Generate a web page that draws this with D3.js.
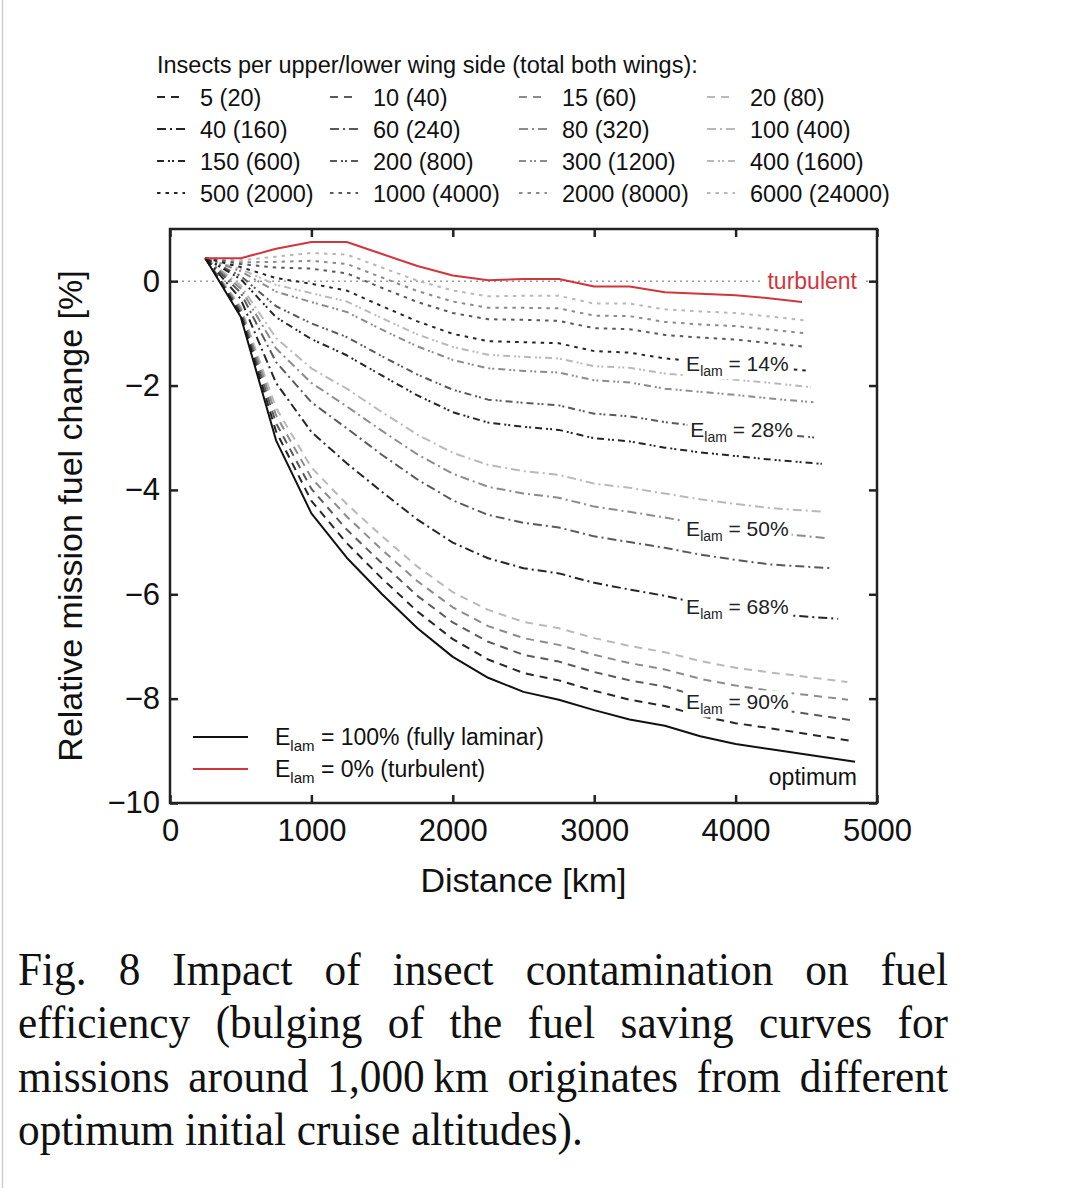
<!DOCTYPE html>
<html><head><meta charset="utf-8">
<script src="https://cdn.jsdelivr.net/npm/d3@7"></script>
<style>body{margin:0;background:#fff} svg{display:block}</style>
</head><body>
<svg id="c" width="1071" height="1200"></svg>
<script>
// ---------------- DATA ----------------
const distanceKm = [250, 500, 750, 1000, 1250, 1500, 1750, 2000, 2250, 2500, 2750, 3000, 3250, 3500, 3750, 4000, 4250];
// each series: 17 values at distanceKm, then the value at its own end distance
const laminar   = [0.44, -0.68, -3.05, -4.45, -5.30, -6.00, -6.65, -7.20, -7.60, -7.87, -8.02, -8.22, -8.40, -8.52, -8.72, -8.87, -8.97, -9.21];
const turbulent = [0.44, 0.44, 0.62, 0.75, 0.75, 0.52, 0.29, 0.11, 0.02, 0.04, 0.04, -0.10, -0.10, -0.21, -0.24, -0.27, -0.33, -0.40];
const laminarEndKm = 4845, turbulentEndKm = 4470;

const ins5    = [0.44, -0.63, -2.88, -4.21, -5.02, -5.70, -6.33, -6.86, -7.25, -7.51, -7.65, -7.85, -8.02, -8.14, -8.33, -8.47, -8.57, -8.81];
const ins10   = [0.44, -0.58, -2.72, -3.98, -4.76, -5.41, -6.03, -6.54, -6.91, -7.16, -7.29, -7.49, -7.65, -7.77, -7.96, -8.10, -8.19, -8.41];
const ins15   = [0.44, -0.53, -2.57, -3.77, -4.51, -5.15, -5.75, -6.25, -6.61, -6.84, -6.97, -7.16, -7.32, -7.44, -7.62, -7.75, -7.85, -8.02];
const ins20   = [0.44, -0.49, -2.43, -3.57, -4.27, -4.89, -5.47, -5.96, -6.30, -6.53, -6.65, -6.84, -6.99, -7.11, -7.28, -7.41, -7.50, -7.68];
const ins40   = [0.44, -0.34, -1.95, -2.89, -3.49, -4.04, -4.57, -5.01, -5.31, -5.50, -5.60, -5.78, -5.91, -6.03, -6.18, -6.29, -6.38, -6.47];
const ins60   = [0.44, -0.22, -1.55, -2.32, -2.82, -3.33, -3.80, -4.20, -4.48, -4.63, -4.72, -4.89, -5.00, -5.11, -5.24, -5.34, -5.43, -5.50];
const ins80   = [0.44, -0.14, -1.29, -1.95, -2.40, -2.87, -3.32, -3.69, -3.94, -4.07, -4.15, -4.32, -4.42, -4.53, -4.65, -4.74, -4.82, -4.92];
const ins100  = [0.44, -0.08, -1.09, -1.67, -2.06, -2.51, -2.94, -3.29, -3.52, -3.64, -3.71, -3.88, -3.96, -4.07, -4.18, -4.27, -4.35, -4.42];
const ins150  = [0.44, 0.04, -0.69, -1.11, -1.42, -1.81, -2.19, -2.51, -2.71, -2.79, -2.85, -3.01, -3.07, -3.19, -3.28, -3.35, -3.42, -3.50];
const ins200  = [0.44, 0.10, -0.48, -0.81, -1.07, -1.44, -1.79, -2.08, -2.27, -2.33, -2.38, -2.54, -2.59, -2.70, -2.78, -2.85, -2.92, -3.00];
const ins300  = [0.44, 0.19, -0.20, -0.40, -0.59, -0.93, -1.25, -1.51, -1.67, -1.72, -1.75, -1.90, -1.94, -2.06, -2.12, -2.18, -2.25, -2.32];
const ins400  = [0.44, 0.23, -0.07, -0.23, -0.39, -0.71, -1.02, -1.26, -1.41, -1.45, -1.48, -1.63, -1.66, -1.77, -1.83, -1.89, -1.95, -2.03];
const ins500  = [0.44, 0.27, 0.06, -0.05, -0.18, -0.48, -0.77, -1.01, -1.15, -1.17, -1.19, -1.34, -1.37, -1.48, -1.54, -1.59, -1.65, -1.72];
const ins1000 = [0.44, 0.33, 0.26, 0.24, 0.15, -0.13, -0.40, -0.61, -0.73, -0.74, -0.76, -0.90, -0.92, -1.03, -1.08, -1.12, -1.19, -1.26];
const ins2000 = [0.44, 0.36, 0.37, 0.39, 0.33, 0.07, -0.19, -0.39, -0.51, -0.51, -0.52, -0.66, -0.67, -0.78, -0.83, -0.86, -0.93, -1.00];
const ins6000 = [0.44, 0.40, 0.47, 0.54, 0.51, 0.26, 0.01, -0.18, -0.29, -0.28, -0.28, -0.43, -0.43, -0.54, -0.58, -0.61, -0.68, -0.75];

const insectSeries = [ins5, ins10, ins15, ins20, ins40, ins60, ins80, ins100, ins150, ins200, ins300, ins400, ins500, ins1000, ins2000, ins6000];
const insectLabels = ["5 (20)", "10 (40)", "15 (60)", "20 (80)", "40 (160)", "60 (240)", "80 (320)", "100 (400)",
  "150 (600)", "200 (800)", "300 (1200)", "400 (1600)", "500 (2000)", "1000 (4000)", "2000 (8000)", "6000 (24000)"];
const insectEndKm = [4820, 4810, 4795, 4790, 4725, 4680, 4630, 4630, 4610, 4580, 4550, 4530, 4520, 4500, 4500, 4490];

// E_lam annotations: series index, label, start distance (km), distance used for vertical placement
const elamLabels = [
  {s: 12, text: "14%", km: 3650, at: 4000},
  {s: 9,  text: "28%", km: 3680, at: 4000},
  {s: 6,  text: "50%", km: 3650, at: 4000},
  {s: 4,  text: "68%", km: 3650, at: 3900},
  {s: 1,  text: "90%", km: 3650, at: 3950}
];
const xTicks = [0, 1000, 2000, 3000, 4000, 5000];
const yTicks = [0, -2, -4, -6, -8, -10];
const captionLines = [
  "Fig. 8 Impact of insect contamination on fuel",
  "efficiency (bulging of the fuel saving curves for",
  "missions around 1,000\u2009km originates from different",
  "optimum initial cruise altitudes)."
];

// ---------------- DRAWING ----------------
const SANS = "'Liberation Sans', Arial, Helvetica, sans-serif";
const SERIF = "'Liberation Serif', 'Times New Roman', serif";
const RED = "#d2353e";
const grays = ["#262626", "#5a5a5a", "#8c8c8c", "#b9b9b9"];
const dashes = ["8,6", "9,4,2,4", "7,4,2,2,2,4", "3.5,5"];

const svg = d3.select("#c");
svg.append("rect").attr("width", 1071).attr("height", 1200).attr("fill", "#fff");
svg.append("line").attr("x1", 2.5).attr("x2", 2.5).attr("y1", 0).attr("y2", 1188)
  .attr("stroke", "#cfcfcf").attr("stroke-width", 1.5);

const M = {l: 170, r: 877, t: 229, b: 803};
const x = d3.scaleLinear().domain([0, 5000]).range([M.l, M.r]);
const y = d3.scaleLinear().domain([-10, 1]).range([M.b, M.t]);
const line = d3.line().x(d => x(d[0])).y(d => y(d[1]));

function pts(vals, endKm) {
  const p = distanceKm.map((d, i) => [d, vals[i]]);
  p.push([endKm, vals[distanceKm.length]]);
  return p;
}

// zero reference line
svg.append("line").attr("x1", x(0)).attr("x2", x(5000)).attr("y1", y(0)).attr("y2", y(0))
  .attr("stroke", "#9a9a9a").attr("stroke-width", 1.4).attr("stroke-dasharray", "2,4");

const gLines = svg.append("g").attr("fill", "none").attr("stroke-linejoin", "round");
const order = d3.range(insectSeries.length).sort((a, b) => (b % 4) - (a % 4));
order.forEach(i => {
  gLines.append("path")
    .attr("d", line(pts(insectSeries[i], insectEndKm[i])))
    .attr("stroke", grays[i % 4])
    .attr("stroke-width", 2)
    .attr("stroke-dasharray", dashes[Math.floor(i / 4)]);
});
gLines.append("path").attr("d", line(pts(laminar, laminarEndKm))).attr("stroke", "#111").attr("stroke-width", 2);
gLines.append("path").attr("d", line(pts(turbulent, turbulentEndKm))).attr("stroke", RED).attr("stroke-width", 2);

function valueAt(vals, endKm, km) {
  const p = pts(vals, endKm);
  for (let k = 0; k < p.length - 1; k++) {
    if (km >= p[k][0] && km <= p[k + 1][0]) {
      const t = (km - p[k][0]) / (p[k + 1][0] - p[k][0]);
      return p[k][1] + t * (p[k + 1][1] - p[k][1]);
    }
  }
  return p[p.length - 1][1];
}

// E_lam labels with white background
elamLabels.forEach(L => {
  const yc = y(valueAt(insectSeries[L.s], insectEndKm[L.s], L.at));
  const g = svg.append("g");
  const bg = g.append("rect").attr("fill", "#fff");
  const t = g.append("text").attr("x", x(L.km)).attr("y", yc + 7)
    .attr("font-family", SANS).attr("font-size", 21).attr("fill", "#222");
  t.append("tspan").text("E");
  t.append("tspan").attr("font-size", 14).attr("dy", 5).text("lam");
  t.append("tspan").attr("dy", -5).text(" = " + L.text);
  const b = t.node().getBBox();
  bg.attr("x", b.x - 3).attr("y", b.y).attr("width", b.width + 6).attr("height", b.height);
});

// "turbulent" label
{
  const g = svg.append("g");
  const bg = g.append("rect").attr("fill", "#fff");
  const t = g.append("text").attr("x", 857).attr("y", y(0) + 8).attr("text-anchor", "end")
    .attr("font-family", SANS).attr("font-size", 23).attr("fill", RED).text("turbulent");
  const b = t.node().getBBox();
  bg.attr("x", b.x - 5).attr("y", b.y).attr("width", b.width + 10).attr("height", b.height);
}
svg.append("text").attr("x", 857).attr("y", 785).attr("text-anchor", "end")
  .attr("font-family", SANS).attr("font-size", 23).attr("fill", "#111").text("optimum");

// inner legend
[[737, "#111", "100% (fully laminar)"], [769, RED, "0% (turbulent)"]].forEach(([yy, col, txt]) => {
  svg.append("line").attr("x1", 193).attr("x2", 248).attr("y1", yy).attr("y2", yy)
    .attr("stroke", col).attr("stroke-width", 2);
  const t = svg.append("text").attr("x", 275).attr("y", yy + 8)
    .attr("font-family", SANS).attr("font-size", 23).attr("fill", "#111");
  t.append("tspan").text("E");
  t.append("tspan").attr("font-size", 15).attr("dy", 6).text("lam");
  t.append("tspan").attr("dy", -6).text(" = " + txt);
});

// axes (ticks inward on all sides)
const fontAxis = g => g.attr("font-family", SANS).attr("font-size", 31);
svg.append("g").attr("transform", `translate(0,${M.b})`)
  .call(d3.axisBottom(x).tickValues(xTicks).tickSize(-8).tickPadding(16).tickFormat(d3.format("d")))
  .call(fontAxis);
svg.append("g").attr("transform", `translate(0,${M.t})`)
  .call(d3.axisTop(x).tickValues(xTicks).tickSize(-8).tickFormat(""));
svg.append("g").attr("transform", `translate(${M.l},0)`)
  .call(d3.axisLeft(y).tickValues(yTicks).tickSize(-8).tickPadding(10).tickFormat(d3.format("d")))
  .call(fontAxis);
svg.append("g").attr("transform", `translate(${M.r},0)`)
  .call(d3.axisRight(y).tickValues(yTicks).tickSize(-8).tickFormat(""));
svg.selectAll(".domain").remove();
svg.selectAll(".tick line").attr("stroke", "#222").attr("stroke-width", 2.5);
svg.selectAll(".tick text").attr("fill", "#111");

// frame
svg.append("rect").attr("x", M.l).attr("y", M.t).attr("width", M.r - M.l).attr("height", M.b - M.t)
  .attr("fill", "none").attr("stroke", "#222").attr("stroke-width", 2.5);

// axis titles
svg.append("text").attr("x", (M.l + M.r) / 2).attr("y", 892).attr("text-anchor", "middle")
  .attr("font-family", SANS).attr("font-size", 34).attr("fill", "#111").text("Distance [km]");
svg.append("text").attr("transform", `translate(82,${(M.t + M.b) / 2}) rotate(-90)`).attr("text-anchor", "middle")
  .attr("font-family", SANS).attr("font-size", 34).attr("fill", "#111").text("Relative mission fuel change [%]");

// top legend
svg.append("text").attr("x", 157).attr("y", 73).attr("font-family", SANS).attr("font-size", 23.5)
  .attr("fill", "#111").text("Insects per upper/lower wing side (total both wings):");
const colLineX = [157, 330, 519, 707];
const rowY = [97, 129, 161, 193];
insectLabels.forEach((lab, i) => {
  const r = Math.floor(i / 4), c = i % 4;
  svg.append("line").attr("x1", colLineX[c]).attr("x2", colLineX[c] + 28)
    .attr("y1", rowY[r]).attr("y2", rowY[r])
    .attr("stroke", grays[c]).attr("stroke-width", 2.2).attr("stroke-dasharray", dashes[r]);
  svg.append("text").attr("x", colLineX[c] + 43).attr("y", rowY[r] + 8.5)
    .attr("font-family", SANS).attr("font-size", 23.5).attr("fill", "#111").text(lab);
});

// caption (justified, slightly condensed)
{
  const left = 18, right = 948, lastW = 565, sx = 0.94;
  const probe = svg.append("text").attr("font-family", SERIF).attr("font-size", 44).text(captionLines[3]);
  const fs = 44 * (lastW / sx) / probe.node().getComputedTextLength();
  probe.remove();
  const baselines = [985, 1038, 1092, 1145];
  captionLines.forEach((ln, li) => {
    const g = svg.append("g").attr("transform", `translate(${left},${baselines[li]}) scale(${sx},1)`);
    const words = ln.split(" ");
    const nodes = words.map(w => g.append("text").attr("font-family", SERIF).attr("font-size", fs)
      .attr("fill", "#111").attr("y", 0).text(w));
    const widths = nodes.map(n => n.node().getComputedTextLength());
    const total = d3.sum(widths);
    const span = (right - left) / sx;
    const gap = li < 3 ? (span - total) / (words.length - 1) : fs * 0.25;
    let cx = 0;
    nodes.forEach((n, k) => { n.attr("x", cx); cx += widths[k] + gap; });
  });
}
</script>
</body></html>
